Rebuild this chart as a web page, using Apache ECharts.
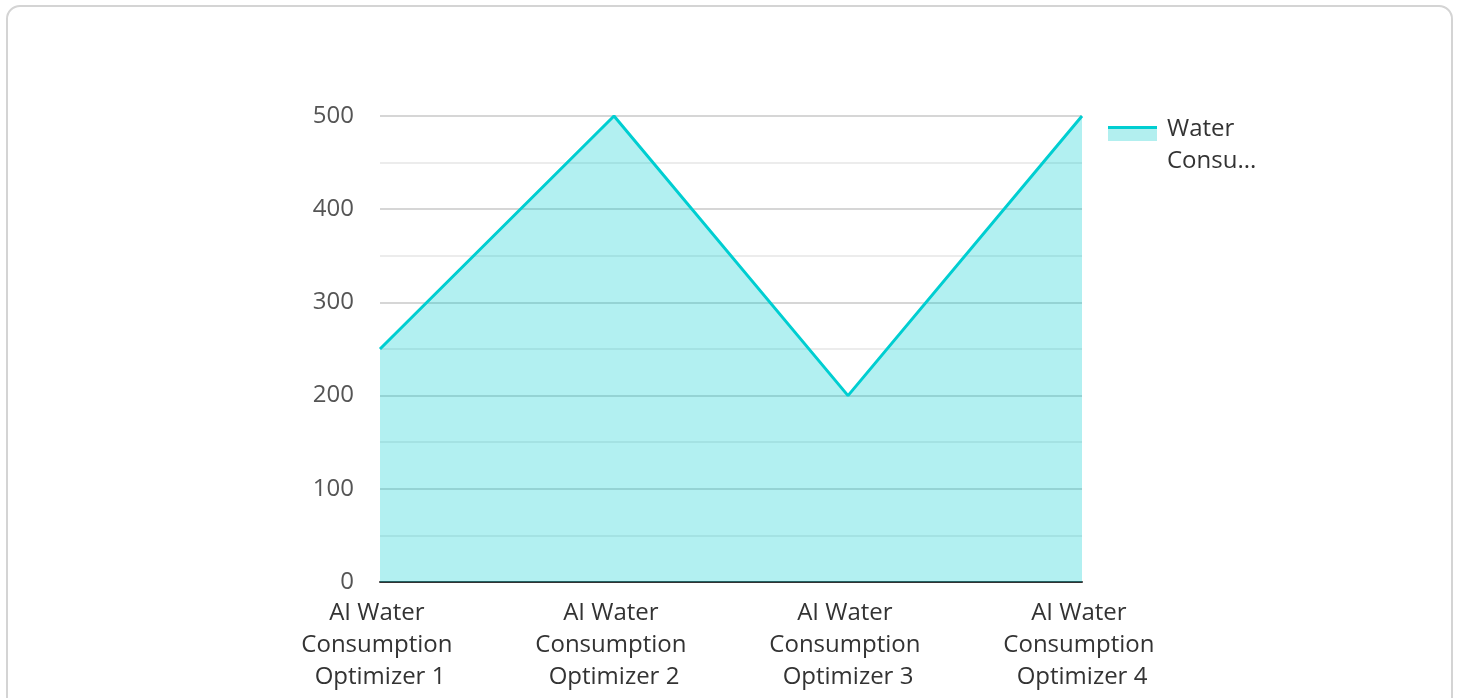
<!DOCTYPE html>
<html>
<head>
<meta charset="utf-8">
<script src="https://cdn.jsdelivr.net/npm/echarts@6/dist/echarts.min.js"></script>
<style>
html,body{margin:0;padding:0;background:#fff;overflow:hidden;}
.card{position:absolute;left:6px;top:5px;width:1447px;height:720px;border:2px solid #d4d4d4;border-radius:14px;box-sizing:border-box;}
#chart{position:absolute;left:0;top:0;width:1458px;height:698px;}
</style>
</head>
<body>
<div class="card"></div>
<div id="chart"></div>
<script>
var categories = ['AI Water Consumption Optimizer 1','AI Water Consumption Optimizer 2','AI Water Consumption Optimizer 3','AI Water Consumption Optimizer 4'];
var waterValues = [250, 500, 200, 500];
var seriesName = 'Water Consumption (liters)';

var lineColor = '#00CED1';
var areaColor = 'rgba(0,206,209,0.3)';

// legend icon: line on top, area below, aligned with the first text line
var iconSvg = '<svg xmlns="http://www.w3.org/2000/svg" width="54" height="64">' +
    '<rect x="0" y="13" width="49" height="15" fill="#B2EFEF"/>' +
    '<rect x="0" y="13" width="49" height="3" fill="' + lineColor + '"/></svg>';
var legendIcon = 'image://data:image/svg+xml;charset=utf-8,' + encodeURIComponent(iconSvg);

var myChart = echarts.init(document.getElementById('chart'));

option = {
    textStyle: { fontFamily: 'Open Sans' },
    grid: { left: 380, right: 376, top: 116, bottom: 116, containLabel: false },
    legend: {
        orient: 'vertical',
        left: 1103,
        top: 108,
        itemWidth: 54,
        itemHeight: 64,
        itemGap: 10,
        formatter: function(name){
            var w = name.split(' ');
            return w[0] + '\n' + w.slice(1).join(' ');
        },
        textStyle: {
            fontSize: 24,
            color: '#333',
            lineHeight: 32,
            width: 104,
            overflow: 'truncate'
        },
        data: [{ name: seriesName, icon: legendIcon }]
    },
    xAxis: {
        type: 'category',
        boundaryGap: false,
        data: categories,
        axisLine: { lineStyle: { color: '#333', width: 2 } },
        axisTick: { show: false },
        axisLabel: {
            color: '#333',
            fontSize: 24,
            lineHeight: 32,
            margin: 15,
            interval: 0,
            width: 170,
            overflow: 'break'
        }
    },
    yAxis: {
        type: 'value',
        min: 0,
        max: 500,
        interval: 100,
        axisLine: { show: false },
        axisTick: { show: false },
        axisLabel: { color: '#555', fontSize: 24, margin: 26 },
        splitLine: { lineStyle: { color: '#c8c8c8', width: 1.5 } },
        minorTick: { show: false, splitNumber: 2 },
        minorSplitLine: { show: true, lineStyle: { color: '#e6e6e6', width: 1.5 } }
    },
    series: [
        {
            name: seriesName,
            type: 'line',
            data: waterValues,
            showSymbol: false,
            symbol: 'none',
            itemStyle: { color: lineColor },
            lineStyle: { width: 3, color: lineColor },
            areaStyle: { color: areaColor, opacity: 1 }
        }
    ]
};
myChart.setOption(option);
window.addEventListener('resize', function(){ myChart.resize(); });
</script>
</body>
</html>
